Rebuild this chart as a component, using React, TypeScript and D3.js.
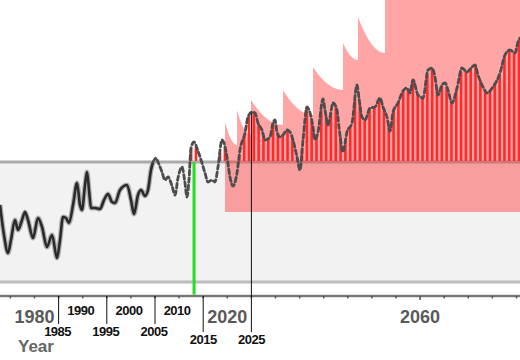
import React from "react";
import * as d3 from "d3";

// observed record (solid)
const solidYears = [1972.84, 1973.67, 1974.5, 1975.12, 1975.95, 1976.58, 1977.41, 1978.03, 1978.65, 1979.69, 1980.73, 1981.56, 1982.59, 1983.63, 1984.67, 1985.29, 1985.91, 1986.54, 1987.16, 1987.99, 1988.82, 1989.44, 1989.85, 1990.48, 1990.89, 1991.31, 1991.72, 1992.55, 1993.59, 1994.42, 1995.25, 1996.08, 1996.7, 1997.74, 1999.19, 2000.02, 2000.64, 2001.47, 2002.1, 2002.93, 2003.55, 2004.17, 2004.59];
const solidValues = [1.07, 0.77, 0.59, 0.72, 0.92, 0.82, 0.92, 1.0, 0.92, 0.74, 0.94, 0.85, 0.65, 0.77, 0.54, 0.72, 0.95, 0.94, 0.89, 1.07, 1.29, 1.07, 1.02, 1.27, 1.4, 1.22, 1.04, 1.04, 1.03, 1.12, 1.18, 1.1, 1.09, 1.22, 1.27, 1.12, 0.98, 1.17, 1.22, 1.16, 1.22, 1.42, 1.5];

// projection (dashed)
const projYears = [2004.59, 2005.21, 2005.62, 2006.45, 2007.07, 2007.7, 2008.53, 2009.15, 2009.77, 2010.6, 2011.22, 2011.64, 2012.05, 2012.47, 2013.09, 2013.92, 2014.75, 2015.37, 2016.0, 2016.83, 2017.45, 2018.07, 2018.9, 2019.32, 2019.94, 2020.56, 2021.18, 2022.01, 2022.63, 2023.67, 2024.29, 2025.12, 2025.75, 2026.37, 2027.2, 2027.82, 2028.86, 2029.48, 2029.9, 2030.31, 2030.93, 2031.56, 2032.39, 2033.01, 2033.63, 2034.46, 2035.08, 2035.71, 2036.54, 2037.16, 2037.78, 2038.2, 2038.82, 2039.85, 2040.27, 2040.89, 2041.31, 2041.93, 2042.76, 2043.17, 2044.0, 2044.83, 2045.87, 2046.91, 2047.32, 2047.95, 2048.57, 2049.61, 2050.64, 2051.68, 2052.3, 2053.13, 2053.76, 2054.38, 2055.41, 2056.45, 2057.28, 2057.9, 2058.53, 2059.56, 2060.6, 2061.64, 2062.47, 2063.09, 2063.71, 2064.54, 2065.17, 2065.79, 2066.62, 2067.66, 2068.69, 2069.73, 2070.77, 2071.39, 2072.01, 2073.05, 2073.88, 2075.12, 2076.58, 2077.61, 2078.65, 2079.69, 2080.31, 2080.73];
const projValues = [1.5, 1.54, 1.5, 1.4, 1.32, 1.35, 1.26, 1.17, 1.34, 1.45, 1.29, 1.15, 1.32, 1.64, 1.7, 1.61, 1.49, 1.39, 1.3, 1.32, 1.3, 1.45, 1.72, 1.69, 1.55, 1.35, 1.26, 1.39, 1.62, 1.79, 1.95, 2.0, 1.99, 1.89, 1.82, 1.72, 1.75, 1.89, 1.92, 1.8, 1.75, 1.77, 1.82, 1.8, 1.72, 1.55, 1.42, 1.72, 2.05, 1.99, 1.85, 1.72, 1.8, 2.13, 2.02, 1.87, 1.95, 2.09, 2.02, 1.85, 1.6, 1.8, 1.89, 2.27, 2.14, 1.95, 1.92, 2.04, 2.05, 2.14, 2.05, 1.95, 1.81, 2.0, 2.09, 2.21, 2.24, 2.19, 2.32, 2.17, 2.14, 2.42, 2.44, 2.35, 2.17, 2.27, 2.29, 2.22, 2.09, 2.24, 2.44, 2.4, 2.45, 2.47, 2.37, 2.25, 2.19, 2.25, 2.39, 2.57, 2.62, 2.59, 2.7, 2.74];

// pink envelope (saw-tooth)
const toothYears = [2019.52, 2022.01, 2024.92, 2031.56, 2037.78, 2044.0, 2047.12, 2052.72];
const toothPeaks = [1.9, 2.02, 2.12, 2.22, 2.45, 2.69, 2.95, 3.4];
const toothEnds = [1.67, 1.77, 1.87, 1.97, 2.22, 2.52, 2.59, 3.4];

const threshold = 1.5;
const bandFloor = 0.3;
const pinkFloor = 1.0;
const greenYear = 2013.1;
const bigLabels = [1980, 2020, 2060];
const smallLabels = [1990, 2000, 2010];
const droppedLabels = [1985, 1995, 2005];
const lowLabels = [2015, 2025];
const tickYears = d3.range(1975, 2081, 5);

const W = 520;
const H = 360;
const FONT = "'Liberation Sans', Arial, Helvetica, sans-serif";

export default function App() {
  const x = d3.scaleLinear().domain([1980, 2060]).range([34.5, 420.1]);
  const y = d3.scaleLinear().domain([0, 3]).range([312, 12]);
  const axisY = 296;
  const xMax = x.invert(W);

  const line = d3
    .line<[number, number]>()
    .x((d) => x(d[0]))
    .y((d) => y(d[1]))
    .curve(d3.curveMonotoneX);

  const solidPts: [number, number][] = solidYears.map((yr, i) => [yr, solidValues[i]]);
  const projPts: [number, number][] = projYears.map((yr, i) => [yr, projValues[i]]);

  // envelope polygon
  const env: [number, number][] = [[toothYears[0], pinkFloor]];
  toothYears.forEach((start, i) => {
    const end = i < toothYears.length - 1 ? toothYears[i + 1] : xMax + 1;
    const peak = toothPeaks[i];
    const low = toothEnds[i];
    const n = 12;
    for (let k = 0; k <= n; k++) {
      const t = k / n;
      env.push([start + (end - start) * t, low + (peak - low) * (1 - t) * (1 - t)]);
    }
  });
  env.push([xMax + 1, pinkFloor]);
  const envPath =
    d3
      .line<[number, number]>()
      .x((d) => x(d[0]))
      .y((d) => y(d[1]))(env) + "Z";

  const interp = d3.scaleLinear().domain(projYears).range(projValues).clamp(true);
  const barYears = d3.range(2010.5, xMax, 1).filter((yr) => interp(yr) > threshold + 0.01);

  const markerTop = y(interp(2025));
  const solidD = line(solidPts) || "";
  const projD = line(projPts) || "";

  return (
    <svg
      width={W}
      height={H}
      style={{ position: "absolute", left: 0, top: 0, display: "block", background: "#fff" }}
      fontFamily={FONT}
    >
      <rect x={0} y={0} width={W} height={H} fill="#fff" />
      {/* grey band */}
      <rect x={0} y={y(threshold)} width={W} height={y(bandFloor) - y(threshold)} fill="#f2f2f2" />
      <line x1={0} x2={W} y1={y(bandFloor)} y2={y(bandFloor)} stroke="#bdbdbd" strokeWidth={3} />
      <line x1={0} x2={W} y1={y(threshold)} y2={y(threshold)} stroke="#ababab" strokeWidth={3} />

      {/* pink envelope */}
      <path d={envPath} fill="rgba(255,55,55,0.45)" />

      {/* red bars */}
      {barYears.map((yr) => (
        <line
          key={yr}
          x1={x(yr)}
          x2={x(yr)}
          y1={y(threshold) - 1}
          y2={y(interp(yr))}
          stroke="#ff2a2a"
          strokeWidth={2.6}
        />
      ))}

      {/* observed solid line */}
      <path d={solidD} fill="none" stroke="#b0b0b0" strokeWidth={5} strokeLinejoin="round" />
      <path d={solidD} fill="none" stroke="#2a2a2a" strokeWidth={2.6} strokeLinejoin="round" />
      {/* projection dashed line */}
      <path
        d={projD}
        fill="none"
        stroke="#4d4d4d"
        strokeWidth={2.8}
        strokeDasharray="4.5 3"
        strokeLinecap="round"
      />

      {/* green marker */}
      <line x1={x(greenYear)} x2={x(greenYear)} y1={y(threshold)} y2={axisY} stroke="#22e022" strokeWidth={3} />

      {/* axis */}
      <line x1={0} x2={W} y1={axisY} y2={axisY} stroke="#c8c8c8" strokeWidth={3} />
      <line x1={0} x2={W} y1={axisY} y2={axisY} stroke="#5a5a5a" strokeWidth={1.4} />
      {tickYears.map((t) => (
        <line
          key={t}
          x1={x(t)}
          x2={x(t)}
          y1={axisY}
          y2={axisY + (t === 2060 ? 4 : 2.5)}
          stroke="#555"
          strokeWidth={1.5}
        />
      ))}

      {/* big grey labels */}
      {bigLabels.map((t) => (
        <text key={t} x={x(t)} y={323} textAnchor="middle" fontSize={18} fontWeight="bold" fill="#5a5a5a">
          {t}
        </text>
      ))}
      {/* small bold labels */}
      {smallLabels.map((t) => (
        <text key={t} x={x(t) - 2} y={315} textAnchor="middle" fontSize={13} fontWeight="bold" fill="#111" letterSpacing={-0.5}>
          {t}
        </text>
      ))}
      {droppedLabels.map((t) => (
        <g key={t}>
          <line x1={x(t)} x2={x(t)} y1={axisY} y2={324} stroke="#111" strokeWidth={1} />
          <text x={x(t) - 1} y={336} textAnchor="middle" fontSize={13} fontWeight="bold" fill="#111" letterSpacing={-0.5}>
            {t}
          </text>
        </g>
      ))}
      {lowLabels.map((t) => (
        <g key={t}>
          <line
            x1={x(t)}
            x2={x(t)}
            y1={t === 2025 ? markerTop : axisY}
            y2={332}
            stroke="#111"
            strokeWidth={1}
          />
          <text x={x(t)} y={344} textAnchor="middle" fontSize={13} fontWeight="bold" fill="#111" letterSpacing={-0.5}>
            {t}
          </text>
        </g>
      ))}
      <text x={18} y={352} fontSize={17} fontWeight="bold" fill="#666">
        Year
      </text>
    </svg>
  );
}
